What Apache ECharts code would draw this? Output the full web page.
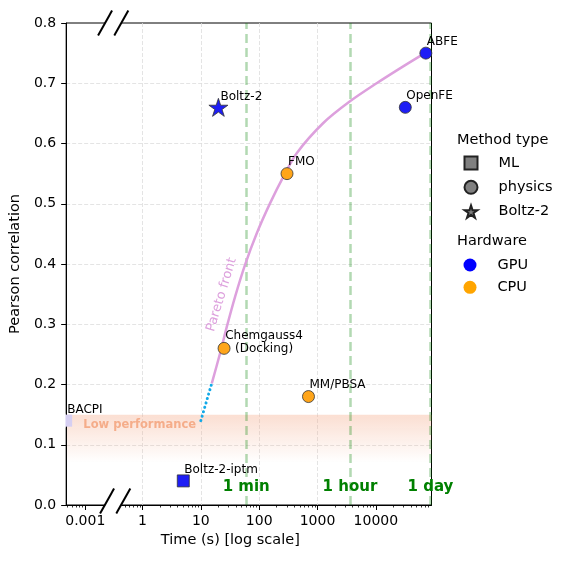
<!DOCTYPE html>
<html>
<head>
<meta charset="utf-8">
<title>Pareto front</title>
<script src="https://cdn.jsdelivr.net/npm/echarts@6.0.0/dist/echarts.min.js"></script>
<style>
  html, body { margin: 0; padding: 0; background: #fff; }
  #main { width: 566px; height: 561px; }
</style>
</head>
<body>
<div id="main"></div>
<script>
// ---- data: time in seconds, Pearson r ----
var gpuNames = ['ABFE', 'OpenFE'];
var gpuTime = [72000, 32000];
var gpuR = [0.75, 0.66];

var cpuNames = ['FMO', 'Chemgauss4\n(Docking)', 'MM/PBSA'];
var cpuTime = [300, 25, 700];
var cpuR = [0.55, 0.26, 0.18];

var boltzNames = ['Boltz-2'];
var boltzTime = [20];
var boltzR = [0.66];

var mlNames = ['Boltz-2-iptm'];
var mlTime = [5];
var mlR = [0.04];

var bacpiNames = ['BACPI'];
var bacpiTime = [0.00047];
var bacpiR = [0.14];

var paretoTime = [15.4, 21.4, 27.9, 38.7, 57.4, 91, 154, 260, 440, 1257, 3603, 10320, 29450, 69300];
var paretoR = [0.202, 0.252, 0.296, 0.346, 0.399, 0.451, 0.501, 0.545, 0.584, 0.634, 0.670, 0.700, 0.728, 0.750];

var tailTime = [10, 15.4];
var tailR = [0.14, 0.202];

var markNames = ['1 min', '1 hour', '1 day'];
var markTime = [60, 3600, 86400];

var xTickValues = [0.001, 1, 10, 100, 1000, 10000];
var xTickLabels = ['0.001', '1', '10', '100', '1000', '10000'];
var xMinorValues = [0.0005, 0.0006, 0.0007, 0.0008, 0.0009, 0.002,
  0.5, 0.6, 0.7, 0.8, 0.9,
  2, 3, 4, 5, 6, 7, 8, 9,
  20, 30, 40, 50, 60, 70, 80, 90,
  200, 300, 400, 500, 600, 700, 800, 900,
  2000, 3000, 4000, 5000, 6000, 7000, 8000, 9000,
  20000, 30000, 40000, 50000, 60000, 70000, 80000];

// ---- broken log axis: left piece (< 0.01) is pulled right ----
var X_MIN = 0.00047, X_MAX = 90000;
var LEFT_END = 0.0021, RIGHT_START = 0.45;
var LEFT_SHIFT = 2.019;
var TIME_LABEL_R = 0.03;
function toU(t) { return t < 0.01 ? Math.log10(t) + LEFT_SHIFT : Math.log10(t); }
function pts(ts, rs) { return ts.map(function (t, i) { return [toU(t), rs[i]]; }); }
function named(names, ts, rs) {
  return ts.map(function (t, i) {
    var d = { name: names[i], value: [toU(t), rs[i]] };
    if (labelTweak[names[i]]) d.label = labelTweak[names[i]];
    return d;
  });
}

var FONT = 'DejaVu Sans';
var STAR = 'path://M50,0L61.2,34.5L97.6,34.5L68.2,55.9L79.4,90.5L50,69.1L20.6,90.5L31.8,55.9L2.4,34.5L38.8,34.5Z';
var BLUE = '#1e1ef5', ORANGE = '#ffa51a', EDGE = '#333333';
var labelTweak = {
  'Chemgauss4\n(Docking)': { align: 'center', offset: [40, 13.5], lineHeight: 13 }
};
var ptLabel = { show: true, position: 'top', align: 'left', distance: 0, offset: [1, 1],
  formatter: '{b}', fontFamily: FONT, fontSize: 12, color: '#000' };

var chart = echarts.init(document.getElementById('main'));

var option = {
  animation: false,
  textStyle: { fontFamily: FONT },
  grid: { left: 66, right: 134.5, top: 23, bottom: 56, show: true, borderColor: '#000', borderWidth: 1 },
  xAxis: [{
    type: 'value', min: toU(X_MIN), max: toU(X_MAX), position: 'bottom',
    axisLine: { onZero: false, lineStyle: { color: '#000', width: 1 } },
    axisTick: { customValues: xTickValues.map(toU), length: 5, lineStyle: { color: '#000' } },
    axisLabel: {
      customValues: xTickValues.map(toU), margin: 9, fontSize: 14, color: '#000',
      formatter: function (v) {
        for (var i = 0; i < xTickValues.length; i++) {
          if (Math.abs(toU(xTickValues[i]) - v) < 1e-6) return xTickLabels[i];
        }
        return '';
      }
    },
    splitLine: { show: true, showMinLine: false, showMaxLine: false,
      lineStyle: { color: '#dddddd', type: [4, 2], width: 0.8 } },
    name: 'Time (s) [log scale]', nameLocation: 'middle', nameGap: 25,
    nameTextStyle: { fontSize: 14.5, color: '#000', padding: [0, 37, 0, 0] }
  }, {
    type: 'value', min: toU(X_MIN), max: toU(X_MAX), position: 'bottom',
    axisLine: { show: false, onZero: false }, axisLabel: { show: false }, splitLine: { show: false },
    axisTick: { customValues: xMinorValues.map(toU), length: 2.5, lineStyle: { color: '#000', width: 0.8 } }
  }],
  yAxis: {
    type: 'value', min: 0, max: 0.8, interval: 0.1,
    axisLine: { show: true, onZero: false, lineStyle: { color: '#000', width: 1 } },
    axisTick: { show: true, length: 5, lineStyle: { color: '#000' } },
    axisLabel: { fontSize: 14, color: '#000', margin: 10, formatter: function (v) { return v.toFixed(1); } },
    splitLine: { show: true, showMinLine: false, showMaxLine: false,
      lineStyle: { color: '#dddddd', type: [4, 2], width: 0.8 } },
    name: 'Pearson correlation', nameLocation: 'middle', nameGap: 40,
    nameTextStyle: { fontSize: 14.5, color: '#000' }
  },
  legend: [{
    data: ['ML', 'physics', 'Boltz-2'], orient: 'vertical', left: 463.5, top: 155.5, padding: 0,
    itemWidth: 13, itemHeight: 13, itemGap: 9.3, selectedMode: false,
    textStyle: { fontSize: 14.5, color: '#000', padding: [0, 0, 0, 16] }
  }, {
    data: ['GPU', 'CPU'], orient: 'vertical', left: 463.5, top: 257.5, padding: 0,
    itemWidth: 13, itemHeight: 13, itemGap: 7.3, selectedMode: false,
    textStyle: { fontSize: 14.5, color: '#000', padding: [0, 0, 0, 16] }
  }],
  series: [
    {
      // guide lines and low-performance band, kept underneath everything else
      name: 'guides', type: 'line', data: [], z: 0,
      markLine: {
        silent: true, symbol: 'none', label: { show: false }, z: 0,
        lineStyle: { color: 'rgba(0,128,0,0.3)', width: 2.5, type: [9, 5] },
        data: markTime.map(function (t) { return { xAxis: toU(t) }; })
      },
      markArea: {
        silent: true, z: 0,
        itemStyle: {
          color: new echarts.graphic.LinearGradient(0, 0, 0, 1, [
            { offset: 0, color: 'rgba(244,165,130,0.36)' },
            { offset: 1, color: 'rgba(244,165,130,0)' }
          ])
        },
        data: [[{ yAxis: 0.15 }, { yAxis: 0.07 }]]
      }
    },
    {
      name: 'timeMarks', type: 'scatter', symbolSize: 0, z: 6,
      data: named(markNames, markTime, markTime.map(function () { return TIME_LABEL_R; })),
      itemStyle: { opacity: 1 },
      label: { show: true, position: 'inside', formatter: '{b}', fontFamily: FONT,
        fontSize: 15, fontWeight: 'bold', color: '#008000' }
    },
    {
      name: 'pareto', type: 'line', smooth: 0.3, showSymbol: false, z: 2,
      data: pts(paretoTime, paretoR),
      lineStyle: { color: '#dda0dd', width: 2.5 }
    },
    {
      name: 'tail', type: 'line', showSymbol: false, z: 2,
      data: pts(tailTime, tailR),
      lineStyle: { color: '#12a9e8', width: 3, type: [0.1, 4.5], cap: 'round' }
    },
    {
      name: 'bacpiPts', type: 'scatter', z: 1, symbol: 'rect', symbolSize: 12,
      data: named(bacpiNames, bacpiTime, bacpiR),
      itemStyle: { color: '#d6cff2', opacity: 1 },
      label: ptLabel
    },
    {
      name: 'mlPts', type: 'scatter', z: 4, symbol: 'rect', symbolSize: 12,
      data: named(mlNames, mlTime, mlR),
      itemStyle: { color: BLUE, borderColor: EDGE, borderWidth: 0.8, opacity: 1 },
      label: ptLabel
    },
    {
      name: 'gpuPts', type: 'scatter', z: 4, symbol: 'circle', symbolSize: 12,
      data: named(gpuNames, gpuTime, gpuR),
      itemStyle: { color: BLUE, borderColor: EDGE, borderWidth: 0.8, opacity: 1 },
      label: ptLabel
    },
    {
      name: 'cpuPts', type: 'scatter', z: 4, symbol: 'circle', symbolSize: 12,
      data: named(cpuNames, cpuTime, cpuR),
      itemStyle: { color: ORANGE, borderColor: EDGE, borderWidth: 0.8, opacity: 1 },
      label: ptLabel
    },
    {
      name: 'boltzPts', type: 'scatter', z: 4, symbol: STAR, symbolSize: [19, 18],
      data: named(boltzNames, boltzTime, boltzR),
      itemStyle: { color: BLUE, borderColor: EDGE, borderWidth: 0.8, opacity: 1 },
      label: Object.assign({}, ptLabel, { offset: [2, 5] })
    },
    // legend-only series
    { name: 'ML', type: 'scatter', data: [], symbol: 'rect', itemStyle: { color: '#808080', borderColor: '#222', borderWidth: 1.2, opacity: 1 } },
    { name: 'physics', type: 'scatter', data: [], symbol: 'circle', itemStyle: { color: '#808080', borderColor: '#222', borderWidth: 1.2, opacity: 1 } },
    { name: 'Boltz-2', type: 'scatter', data: [], symbol: STAR, itemStyle: { color: '#808080', borderColor: '#222', borderWidth: 1.2, opacity: 1 } },
    { name: 'GPU', type: 'scatter', data: [], symbol: 'circle', itemStyle: { color: '#0000ff', opacity: 1 } },
    { name: 'CPU', type: 'scatter', data: [], symbol: 'circle', itemStyle: { color: '#ffa500', opacity: 1 } }
  ]
};

chart.setOption(option);

// ---- decorations placed from axis coordinates ----
var xs = chart.convertToPixel({ xAxisIndex: 0 }, toU(LEFT_END));
var xe = chart.convertToPixel({ xAxisIndex: 0 }, toU(RIGHT_START));
var yTop = chart.convertToPixel({ yAxisIndex: 0 }, 0.8);
var yBot = chart.convertToPixel({ yAxisIndex: 0 }, 0);
var pf = chart.convertToPixel({ xAxisIndex: 0, yAxisIndex: 0 }, [toU(22.7), 0.349]);
var lp = chart.convertToPixel({ xAxisIndex: 0, yAxisIndex: 0 }, [toU(0.000925), 0.133]);
var bp = chart.convertToPixel({ xAxisIndex: 0, yAxisIndex: 0 }, [toU(bacpiTime[0]), bacpiR[0]]);

function slash(cx, cy) {
  return { type: 'line', z: 120, shape: { x1: cx - 7, y1: cy + 12.5, x2: cx + 7, y2: cy - 12.5 },
    style: { stroke: '#000', lineWidth: 2 } };
}

chart.setOption({
  graphic: [
    { type: 'rect', z: 110, shape: { x: xs + 1, y: yTop - 2, width: xe - xs - 2, height: 4 }, style: { fill: '#fff' } },
    { type: 'rect', z: 110, shape: { x: xs + 1, y: yBot - 2, width: xe - xs - 2, height: 4 }, style: { fill: '#fff' } },
    slash(xs + 1, yTop), slash(xe - 1, yTop),
    slash(xs + 3, yBot - 4), slash(xe + 1, yBot - 4),
    { type: 'rect', z: 110, shape: { x: bp[0] - 10, y: bp[1] - 7, width: 9.3, height: 14 }, style: { fill: '#fff' } },
    { type: 'text', z: 100, x: pf[0], y: pf[1], rotation: 73 * Math.PI / 180,
      style: { text: 'Pareto front', fill: '#dda0dd', font: '13px "DejaVu Sans"', align: 'center', verticalAlign: 'middle' } },
    { type: 'text', z: 100, x: lp[0], y: lp[1],
      style: { text: 'Low performance', fill: '#f5ad8a', font: 'bold 11.5px "DejaVu Sans"', align: 'left', verticalAlign: 'middle' } },
    { type: 'text', z: 100, x: 457, y: 140,
      style: { text: 'Method type', fill: '#000', font: '14.5px "DejaVu Sans"', align: 'left', verticalAlign: 'middle' } },
    { type: 'text', z: 100, x: 457, y: 241.7,
      style: { text: 'Hardware', fill: '#000', font: '14.5px "DejaVu Sans"', align: 'left', verticalAlign: 'middle' } }
  ]
});
</script>
</body>
</html>
